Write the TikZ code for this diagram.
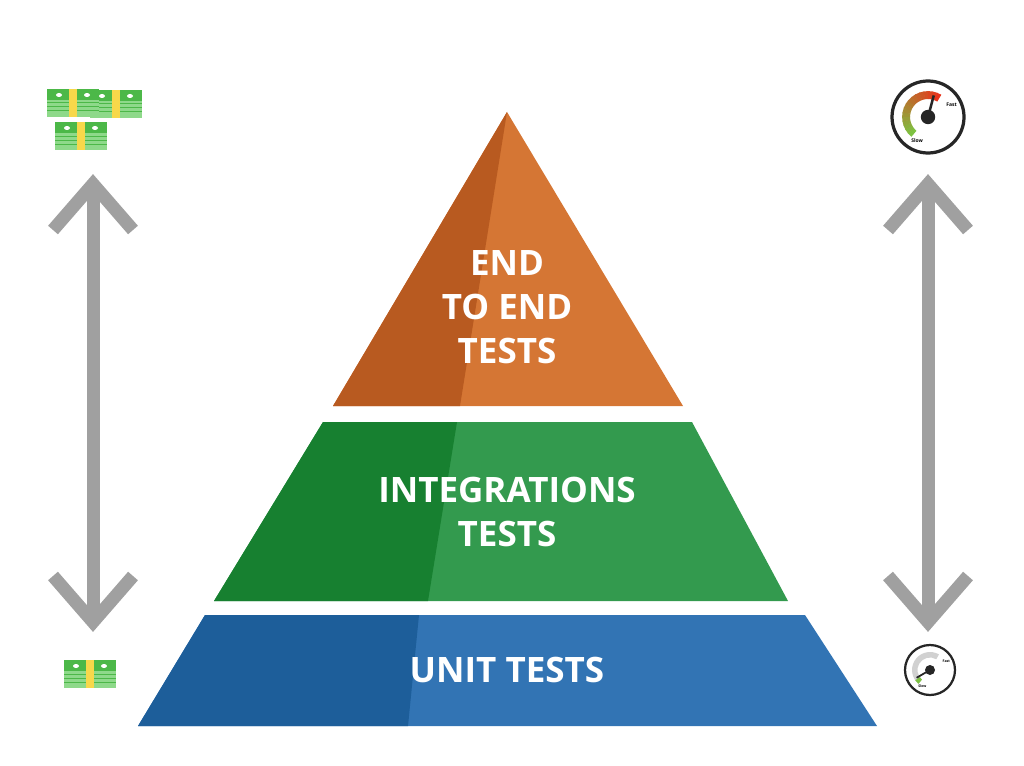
\documentclass[tikz,border=0pt]{standalone}
\usepackage{fontspec}
\setmainfont{Open Sans}
\usetikzlibrary{positioning,calc}
\definecolor{orangeL}{HTML}{D57634}
\definecolor{orangeD}{HTML}{B85A20}
\definecolor{greenL}{HTML}{339A4E}
\definecolor{greenD}{HTML}{178030}
\definecolor{blueL}{HTML}{3274B4}
\definecolor{blueD}{HTML}{1D5E9A}
\definecolor{arrowgray}{HTML}{A0A0A0}
\definecolor{cash}{HTML}{4CB848}
\definecolor{cashL}{HTML}{8ED98A}
\definecolor{band}{HTML}{F7D84A}
\definecolor{slowc}{HTML}{7DC242}
\definecolor{fastc}{HTML}{E8341C}
\newcommand{\cashstack}[1]{%
  \fill[cashL] ($(#1)+(-26,-6)$) rectangle ($(#1)+(26,14)$);
  \foreach \k in {0,4,8}
    \draw[cash, line width=1pt] ($(#1)+(-26,\k)$) -- ($(#1)+(26,\k)$);
  \fill[cash] ($(#1)+(-26,-14)$) rectangle ($(#1)+(26,-3)$);
  \fill[white] ($(#1)+(-14,-8)$) ellipse (3 and 2) ($(#1)+(14,-8)$) ellipse (3 and 2);
  \fill[band] ($(#1)+(-4,-14)$) rectangle ($(#1)+(4,14)$);}
% #1 centre, #2 radius, #3 label size, #4 coloured dial (1) or gray (0)
\newcommand{\gauge}[4]{%
  \draw[line width={0.09*#2}, black!85] (#1) circle (#2);
  \ifnum#4=1
    \foreach \t in {0,...,16}{
      \pgfmathsetmacro\mix{\t*100/16}
      \fill[fastc!\mix!slowc] ($(#1)+(-230+\t*10:0.72*#2)$) arc (-230+\t*10:-219+\t*10:0.72*#2)
        -- ($(#1)+(-219+\t*10:0.5*#2)$) arc (-219+\t*10:-230+\t*10:0.5*#2) -- cycle;}
  \else
    \fill[black!18] ($(#1)+(-230:0.72*#2)$) arc (-230:-60:0.72*#2) -- ($(#1)+(-60:0.5*#2)$) arc (-60:-230:0.5*#2) -- cycle;
    \fill[slowc] ($(#1)+(-230:0.72*#2)$) arc (-230:-215:0.72*#2) -- ($(#1)+(-215:0.5*#2)$) arc (-215:-230:0.5*#2) -- cycle;
  \fi
  \draw[line width={0.07*#2}, black!85] (#1) -- ++(\ifnum#4=1 -75\else -210\fi:0.62*#2);
  \fill[black!85] (#1) circle ({0.2*#2});
  \node[font=\fontsize{#3}{#3}\selectfont\bfseries, inner sep=0] at ($(#1)+(-28:0.74*#2)$) {Fast};
  \node[font=\fontsize{#3}{#3}\selectfont\bfseries, inner sep=0] at ($(#1)+(-245:0.72*#2)$) {Slow};}
\begin{document}
\begin{tikzpicture}[x=1pt, y=-1pt]

\tikzstyle{label}=[text=white, font=\fontsize{35}{44}\selectfont\bfseries, align=center]
\tikzstyle{gray arrow}=[arrowgray, line width=13pt]
\tikzstyle{chevron}=[arrowgray, line width=13pt, miter limit=10]

\useasboundingbox (0,0) rectangle (1024,765);

% pyramid, light halves then dark halves
\fill[orangeL] (507,112) -- (683,406) -- (333,406) -- cycle;
\fill[orangeD] (507,112) -- (460,406) -- (333,406) -- cycle;
\fill[greenL] (323,422) -- (692,422) -- (788,601) -- (214,601) -- cycle;
\fill[greenD] (323,422) -- (457,422) -- (428,601) -- (214,601) -- cycle;
\fill[blueL] (205,615) -- (805,615) -- (877,726) -- (138,726) -- cycle;
\fill[blueD] (205,615) -- (419,615) -- (408,726) -- (138,726) -- cycle;

\node[label] (e2e) at (507,307) {END\\TO END\\TESTS};
\node[label] (integ) at (507,512) {INTEGRATIONS\\TESTS};
\node[label] (unit) at (507,670) {UNIT TESTS};

% cost and speed arrows
\coordinate (costtop) at (93,184);
\coordinate (costbot) at (93,622);
\coordinate (speedtop) at (928,184);
\coordinate (speedbot) at (928,622);
\draw[gray arrow] (costtop) -- (costbot);
\draw[gray arrow] (speedtop) -- (speedbot);
\foreach \a in {costtop,speedtop}
  \draw[chevron] ($(\a)+(-40,46)$) -- (\a) -- ($(\a)+(40,46)$);
\foreach \a in {costbot,speedbot}
  \draw[chevron] ($(\a)+(-40,-46)$) -- (\a) -- ($(\a)+(40,-46)$);

% icons
\coordinate (cashA) at (73,103);
\coordinate (cashB) at (116,104);
\coordinate (cashC) at (81,136);
\coordinate (cashD) at (90,674);
\cashstack{cashB}
\cashstack{cashA}
\cashstack{cashC}
\cashstack{cashD}
\coordinate (fastgauge) at (928,117);
\coordinate (slowgauge) at (930,670);
\gauge{fastgauge}{36}{5}{1}
\gauge{slowgauge}{25}{3.5}{0}
\end{tikzpicture}
\end{document}
